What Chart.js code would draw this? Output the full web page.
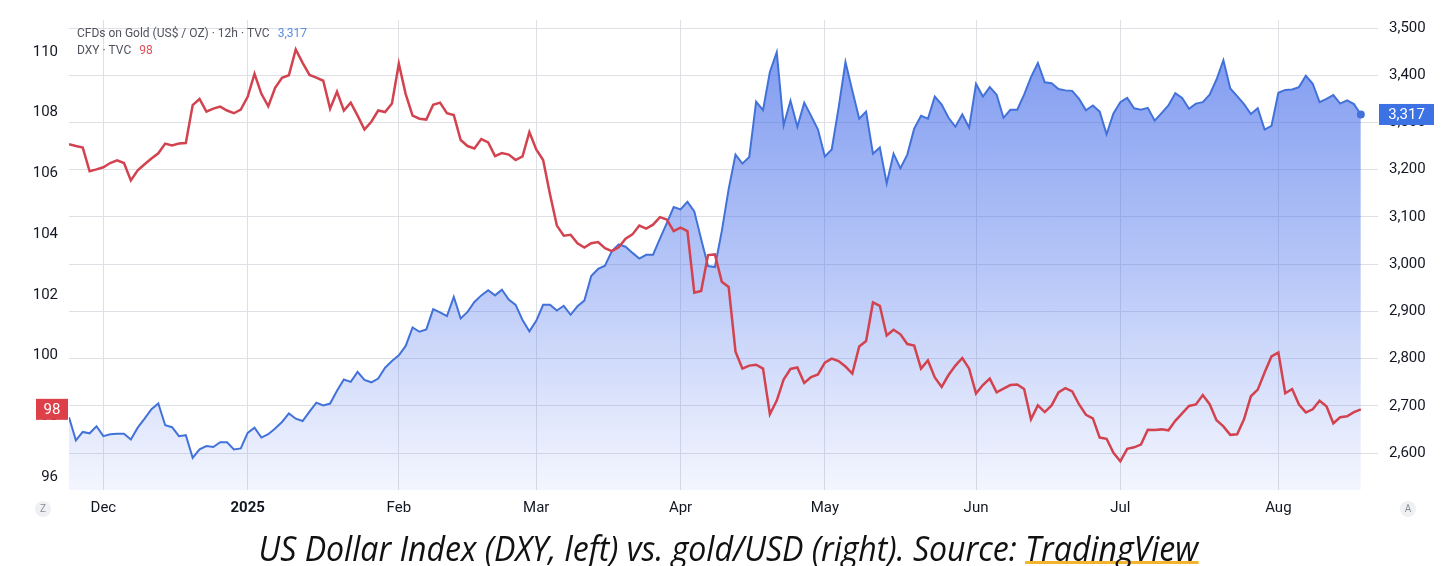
<!DOCTYPE html>
<html><head><meta charset="utf-8">
<script src="https://cdn.jsdelivr.net/npm/chart.js@4.4.1/dist/chart.umd.min.js"></script>
<style>
html,body{margin:0;padding:0;background:#fff;}
#wrap{position:relative;width:1456px;height:566px;overflow:hidden;background:#fff;}
#c{position:absolute;left:0;top:0;}
#cap{position:absolute;left:0;top:531px;width:1456px;text-align:center;font:italic 34px 'Open Sans';line-height:34px;color:#111;white-space:nowrap;}
#capIn{display:inline-block;transform-origin:50% 50%;}
.tv{text-decoration:none;background-image:linear-gradient(#f2b331,#f2b331);background-repeat:no-repeat;background-size:100% 3px;background-position:0 calc(100% - 7px);}
</style></head><body>
<div id="wrap"><canvas id="c" width="1456" height="566"></canvas>
<div id="cap"><span id="capIn">US Dollar Index (DXY, left) vs. gold/USD (right). Source: <span class="tv">TradingView</span></span></div></div>
<script>
// Trading-day series starting Mon 25 Nov 2024 (index 0), one value per trading day
const dxy = [106.96,106.90,106.85,106.07,106.13,106.20,106.34,106.43,106.34,105.77,
106.10,106.30,106.49,106.66,106.98,106.92,106.98,107.00,108.25,108.45,
108.03,108.13,108.20,108.07,107.98,108.10,108.52,109.28,108.62,108.21,
108.82,109.15,109.23,110.08,109.64,109.24,109.15,109.05,108.13,108.69,
108.07,108.33,107.90,107.44,107.70,108.07,108.02,108.30,109.61,108.61,
107.90,107.80,107.77,108.26,108.33,107.98,107.92,107.10,106.90,106.82,
107.13,107.02,106.57,106.67,106.62,106.44,106.56,107.36,106.79,106.44,
105.31,104.28,103.95,103.98,103.70,103.56,103.70,103.74,103.54,103.44,
103.57,103.85,103.99,104.28,104.18,104.31,104.56,104.48,104.10,104.21,
104.10,102.07,102.13,103.31,103.33,102.43,102.26,100.13,99.57,99.67,
99.70,99.57,98.07,98.52,99.21,99.56,99.61,99.10,99.29,99.38,
99.77,99.90,99.82,99.64,99.41,100.30,100.48,101.75,101.64,100.66,
100.85,100.70,100.38,100.33,99.57,99.84,99.28,98.97,99.36,99.67,
99.92,99.57,98.75,99.03,99.24,98.79,98.91,99.03,99.05,98.90,
97.90,98.36,98.14,98.36,98.79,98.93,98.82,98.39,98.05,97.93,
97.30,97.26,96.80,96.52,96.93,96.98,97.07,97.56,97.55,97.57,
97.54,97.85,98.10,98.34,98.39,98.70,98.40,97.87,97.67,97.39,
97.41,97.90,98.66,98.88,99.44,99.97,100.10,98.76,98.90,98.39,
98.13,98.23,98.51,98.33,97.77,97.97,98.00,98.14,98.23];

const gold = [2676,2627,2645,2642,2657,2636,2640,2641,2641,2629,
2654,2673,2693,2705,2659,2655,2636,2638,2590,2608,
2615,2613,2623,2623,2608,2610,2643,2654,2633,2640,
2652,2666,2684,2673,2668,2688,2707,2701,2705,2732,
2756,2751,2772,2755,2750,2758,2781,2795,2807,2827,
2866,2857,2862,2905,2898,2890,2931,2885,2899,2920,
2934,2945,2934,2946,2925,2914,2882,2858,2880,2914,
2914,2902,2912,2893,2911,2923,2975,2990,2997,3028,
3042,3037,3024,3012,3020,3020,3054,3087,3121,3116,
3132,3112,3053,2996,2994,3070,3159,3232,3213,3227,
3344,3326,3407,3449,3294,3346,3291,3342,3314,3285,
3228,3243,3331,3428,3367,3308,3323,3234,3247,3171,
3234,3203,3232,3287,3314,3308,3355,3338,3310,3291,
3317,3289,3382,3355,3375,3359,3310,3327,3327,3359,
3396,3426,3385,3383,3371,3368,3367,3350,3326,3336,
3323,3275,3319,3343,3352,3330,3327,3331,3304,3320,
3336,3362,3352,3329,3340,3343,3359,3391,3432,3372,
3356,3339,3318,3330,3285,3293,3363,3369,3370,3375,
3399,3382,3343,3350,3358,3340,3347,3339,3317];

// month tick positions (trading-day index) and labels
const monthTickIndex = [5,26,48,68,89,110,132,153,176];
const monthTickLabels = ['Dec','2025','Feb','Mar','Apr','May','Jun','Jul','Aug'];
const goldTicks = [2600,2700,2800,2900,3000,3100,3200,3300,3400,3500];
const dxyTicks = [96,98,100,102,104,106,108,110];

const goldLegend = 'CFDs on Gold (US$ / OZ) · 12h · TVC';
const dxyLegend = 'DXY · TVC';

const fmt = v => Math.round(v).toLocaleString('en-US');
const lastGold = gold[gold.length-1];
const lastDxy = dxy[dxy.length-1];

const FONT = 'Roboto';
const TXT = '#131722';
const GRID = '#dfe0e5';
const BLUE = '#4272d9';
const RED = '#d2434f';

const overlay = {
  id: 'overlay',
  afterDraw(chart) {
    const ctx = chart.ctx;
    const ca = chart.chartArea;
    ctx.save();
    // legend
    ctx.textBaseline = 'middle';
    ctx.textAlign = 'left';
    ctx.font = '12px ' + FONT;
    ctx.fillStyle = '#50535e';
    ctx.fillText(goldLegend, 77, 34);
    let w = ctx.measureText(goldLegend).width;
    ctx.fillStyle = '#5b8de3';
    ctx.fillText(fmt(lastGold), 77 + w + 8, 34);
    ctx.fillStyle = '#50535e';
    ctx.fillText(dxyLegend, 77, 51);
    w = ctx.measureText(dxyLegend).width;
    ctx.fillStyle = '#e0505a';
    ctx.fillText(fmt(lastDxy), 77 + w + 8, 51);

    // last price labels
    const gy = chart.scales.yR.getPixelForValue(lastGold);
    ctx.fillStyle = '#3d72e4';
    ctx.fillRect(ca.right + 1, gy - 10.5, 55, 21);
    ctx.fillStyle = '#fff';
    ctx.font = '15px ' + FONT;
    ctx.textAlign = 'center';
    ctx.fillText(fmt(lastGold), ca.right + 1 + 27.5, gy + 0.5);

    const dy = chart.scales.yL.getPixelForValue(lastDxy);
    ctx.fillStyle = '#dd4048';
    ctx.fillRect(36, dy - 10.5, 32, 21);
    ctx.fillStyle = '#fff';
    ctx.fillText(fmt(lastDxy), 52, dy + 0.5);

    // small corner buttons
    const btn = (x, y, t) => {
      ctx.beginPath();
      ctx.arc(x, y, 8, 0, Math.PI * 2);
      ctx.fillStyle = '#eff0f3';
      ctx.fill();
      ctx.fillStyle = '#8a8d96';
      ctx.font = '10px ' + FONT;
      ctx.textAlign = 'center';
      ctx.fillText(t, x, y + 0.5);
    };
    btn(43, 509, 'Z');
    btn(1408, 509, 'A');
    ctx.restore();
  }
};

const ctx = document.getElementById('c').getContext('2d');
new Chart(ctx, {
  type: 'line',
  data: {
    datasets: [
      {
        label: 'DXY',
        data: dxy.map((v, i) => ({x: i, y: v})),
        yAxisID: 'yL',
        borderColor: RED,
        borderWidth: 2.5,
        pointRadius: 0,
        tension: 0,
        fill: false
      },
      {
        label: 'Gold',
        data: gold.map((v, i) => ({x: i, y: v})),
        yAxisID: 'yR',
        borderColor: BLUE,
        borderWidth: 2,
        tension: 0,
        pointRadius: c => c.dataIndex === gold.length - 1 ? 4 : 0,
        pointBackgroundColor: BLUE,
        pointBorderWidth: 0,
        fill: 'start',
        backgroundColor: c => {
          const ca = c.chart.chartArea;
          if (!ca) return 'rgba(66,114,217,0.3)';
          const g = c.chart.ctx.createLinearGradient(0, ca.top, 0, ca.bottom);
          g.addColorStop(0, 'rgba(58,100,232,0.68)');
          g.addColorStop(0.55, 'rgba(70,110,235,0.38)');
          g.addColorStop(1, 'rgba(90,125,240,0.07)');
          return g;
        }
      }
    ]
  },
  options: {
    responsive: false,
    animation: false,
    devicePixelRatio: 1,
    layout: {padding: {top: 18, left: 0, right: 0, bottom: 0}},
    plugins: {legend: {display: false}, tooltip: {enabled: false}},
    scales: {
      x: {
        type: 'linear',
        min: 0,
        max: 190.5,
        afterBuildTicks: s => { s.ticks = monthTickIndex.map(v => ({value: v})); },
        afterFit: s => { s.height = 76; },
        grid: {color: GRID, drawTicks: false},
        border: {display: false},
        ticks: {
          autoSkip: false,
          maxRotation: 0,
          padding: 9,
          color: TXT,
          font: c => ({family: FONT, size: 15, weight: (c.tick && c.tick.value === 26) ? 'bold' : 'normal'}),
          callback: v => { const i = monthTickIndex.indexOf(v); return i >= 0 ? monthTickLabels[i] : ''; }
        }
      },
      yL: {
        type: 'linear',
        position: 'left',
        min: 95.574,
        max: 111.05,
        afterBuildTicks: s => { s.ticks = dxyTicks.map(v => ({value: v})); },
        afterFit: s => { s.width = 69; },
        grid: {display: false, drawTicks: false},
        border: {display: false},
        ticks: {padding: 11, color: TXT, font: {family: FONT, size: 15}, callback: v => String(v)}
      },
      yR: {
        type: 'linear',
        position: 'right',
        min: 2522,
        max: 3517,
        afterBuildTicks: s => { s.ticks = goldTicks.map(v => ({value: v})); },
        afterFit: s => { s.width = 78; },
        grid: {color: GRID, drawTicks: false},
        border: {display: false},
        ticks: {padding: 11, color: TXT, font: {family: FONT, size: 15}, callback: v => v.toLocaleString('en-US')}
      }
    }
  },
  plugins: [overlay]
});

// fit caption width to reference span
const capIn = document.getElementById('capIn');
const s = 940 / capIn.getBoundingClientRect().width;
capIn.style.transform = 'scaleX(' + s.toFixed(3) + ')';
</script>
</body></html>
